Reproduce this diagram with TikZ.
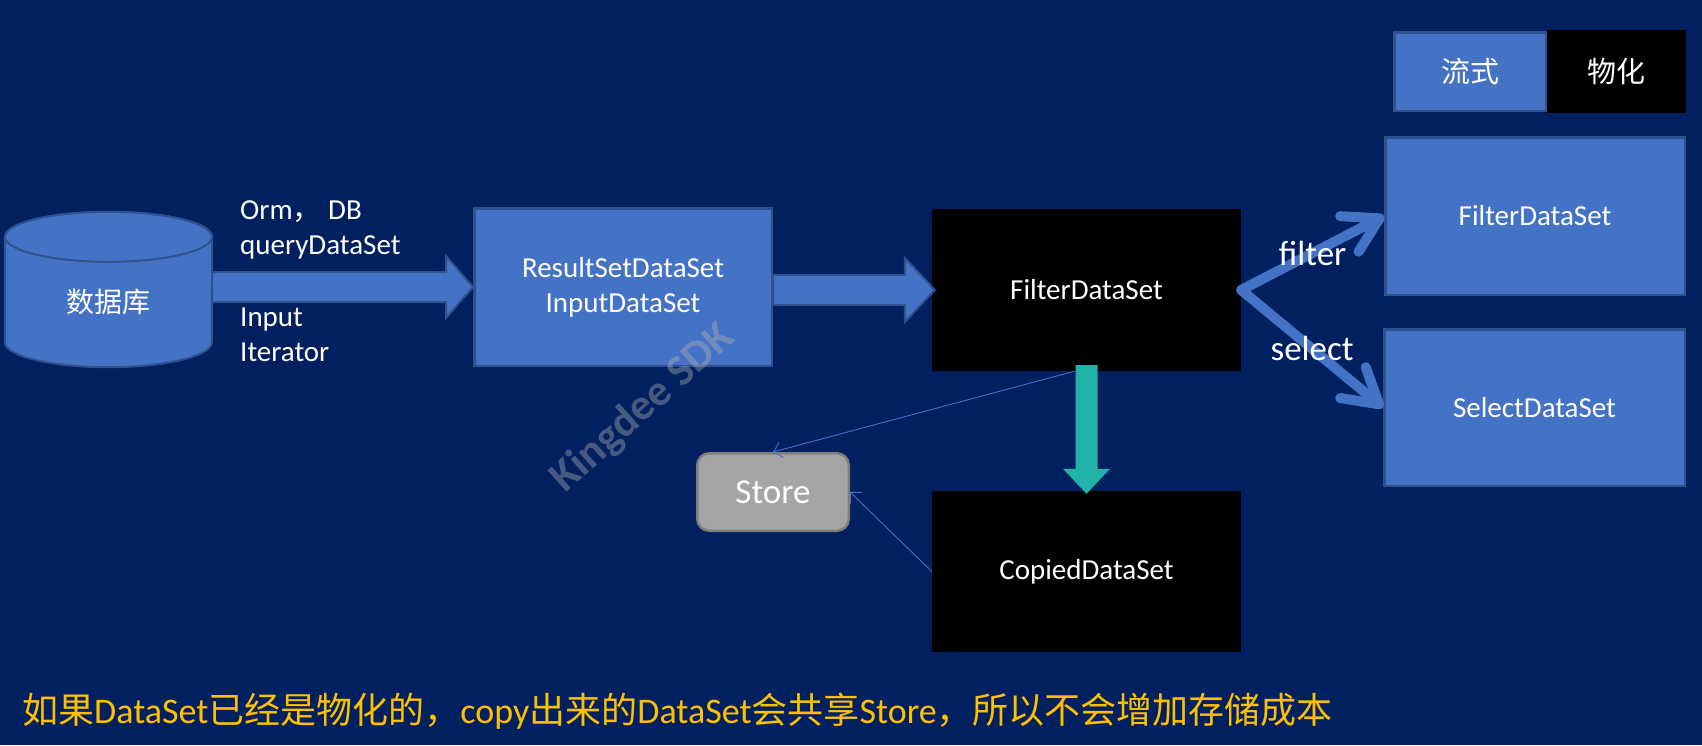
\documentclass[tikz,border=0pt]{standalone}
\usepackage{fontspec}
\setmainfont{Carlito}
\newfontfamily\cjk{Noto Sans CJK SC}
\usetikzlibrary{arrows.meta,positioning,calc}
\definecolor{cNavy}{HTML}{002060}
\definecolor{cBlue}{HTML}{4472C4}
\definecolor{cEdge}{HTML}{2F528F}
\definecolor{cTeal}{HTML}{21B2A8}
\definecolor{cGray}{HTML}{A5A5A5}
\definecolor{cGrayEdge}{HTML}{7F7F7F}
\definecolor{cGold}{HTML}{FFC000}
\tikzset{
  fnt/.style   ={font=\fontsize{29pt}{35pt}\selectfont},
  box/.style   ={draw=cEdge,line width=2.5pt,fill=cBlue,text=white,
                 align=center,inner sep=0pt,fnt},
  kbox/.style  ={fill=black,text=white,align=center,inner sep=0pt,fnt},
  sbox/.style  ={rounded corners=12pt,draw=cGrayEdge,line width=2.5pt,fill=cGray,
                 text=white,inner sep=0pt,font=\fontsize{35pt}{42pt}\selectfont},
  barr/.style  ={fill=cBlue,draw=cEdge,line width=2pt},
  tarr/.style  ={fill=cTeal},
  fat/.style   ={draw=cBlue,line width=10pt,line cap=round,line join=round,
                 -{Straight Barb[length=34pt,width=40pt,round]}},
  slim/.style  ={draw=cBlue,line width=0.9pt,-{Straight Barb[length=8pt,width=16pt]}},
  lbl/.style   ={text=white,inner sep=0pt,font=\fontsize{35pt}{42pt}\selectfont},
  note/.style  ={text=white,align=left,inner sep=0pt,fnt},
}

\begin{document}
\begin{tikzpicture}[x=1pt,y=-1pt]
\useasboundingbox (0,0) rectangle (1702,745);
\fill[cNavy] (0,0) rectangle (1702,745);

% database cylinder
\node[minimum width=207,minimum height=130,inner sep=0pt] (db) at (108.5,302) {};
\draw[barr] (db.north west) -- ($(db.south west)+(0,-25)$)
    arc[start angle=180,end angle=360,x radius=103.5pt,y radius=25pt]
    -- (db.north east)
    arc[start angle=0,end angle=180,x radius=103.5pt,y radius=25pt] -- cycle;
\draw[barr] (db.north) ellipse[x radius=103.5pt,y radius=25pt];
\node[text=white,font=\cjk\fontsize{28pt}{35pt}\selectfont] at (db) {数据库};

% boxes
\node[box,minimum width=297.5,minimum height=157.5] (rs) at (623,287)
  {ResultSetDataSet\\InputDataSet};
\node[kbox,minimum width=309,minimum height=162] (fds) at (1086.5,290) {FilterDataSet};
\node[kbox,minimum width=309,minimum height=161] (cds) at (1086.5,571.5) {CopiedDataSet};
\node[sbox,minimum width=151.5,minimum height=77.5] (st) at (773,492) {Store};
\node[box,minimum width=299.5,minimum height=157.5] (flt) at (1535,216) {FilterDataSet};
\node[box,minimum width=300.5,minimum height=156.5] (sel) at (1534.5,407.5) {SelectDataSet};

% legend
\node[box,minimum width=151.5,minimum height=78.5] (lflow) at (1470,71.5) {\cjk 流式};
\node[kbox,minimum width=139,minimum height=83,right=0pt of lflow] (lmat) {\cjk 物化};

% block arrows
\draw[barr] ($(db.east |- rs.west)+(0,-15)$) -- ($(rs.west)+(-27,-15)$)
  -- ($(rs.west)+(-27,-31)$) -- (rs.west) -- ($(rs.west)+(-27,31)$)
  -- ($(rs.west)+(-27,15)$) -- ($(db.east |- rs.west)+(0,15)$) -- cycle;
\draw[barr] ($(rs.east |- fds.west)+(0,-15)$) -- ($(fds.west)+(-27,-15)$)
  -- ($(fds.west)+(-27,-32)$) -- ($(fds.west)+(3,0)$) -- ($(fds.west)+(-27,32)$)
  -- ($(fds.west)+(-27,15)$) -- ($(rs.east |- fds.west)+(0,15)$) -- cycle;
\fill[tarr] ($(fds.south)+(-11,-6)$) -- ($(cds.north)+(-11,-22)$)
  -- ($(cds.north)+(-23.5,-22)$) -- ($(cds.north)+(0,3)$) -- ($(cds.north)+(23.5,-22)$)
  -- ($(cds.north)+(11,-22)$) -- ($(fds.south)+(11,-6)$) -- cycle;

\node[note,anchor=west] (qry) at (240,229.5) {Orm{\cjk ，} DB\\queryDataSet};
\node[note,anchor=west] (itr) at (240,334.5) {Input\\Iterator};

% branch arrows
\draw[fat] (fds.east) -- (flt.west) node[lbl,pos=0.5] {filter};
\draw[fat] (fds.east) -- (sel.west) node[lbl,pos=0.5] {select};

% shared store
\draw[slim] ($(fds.south)+(-12,0)$) -- (st.north);
\draw[slim] (cds.west) -- (st.east);

% watermark
\node[rotate=42,text=gray!60!white,opacity=0.4,
      font=\bfseries\fontsize{44pt}{52pt}\selectfont] (wm) at (643,408) {Kingdee SDK};

\node[anchor=west,text=cGold,inner sep=0pt,font=\fontsize{36pt}{42pt}\selectfont] (cap) at (22,711)
  {{\cjk 如果}DataSet{\cjk 已经是物化的，}copy{\cjk 出来的}DataSet{\cjk 会共享}Store{\cjk ，所以不会增加存储成本}};
\end{tikzpicture}
\end{document}
